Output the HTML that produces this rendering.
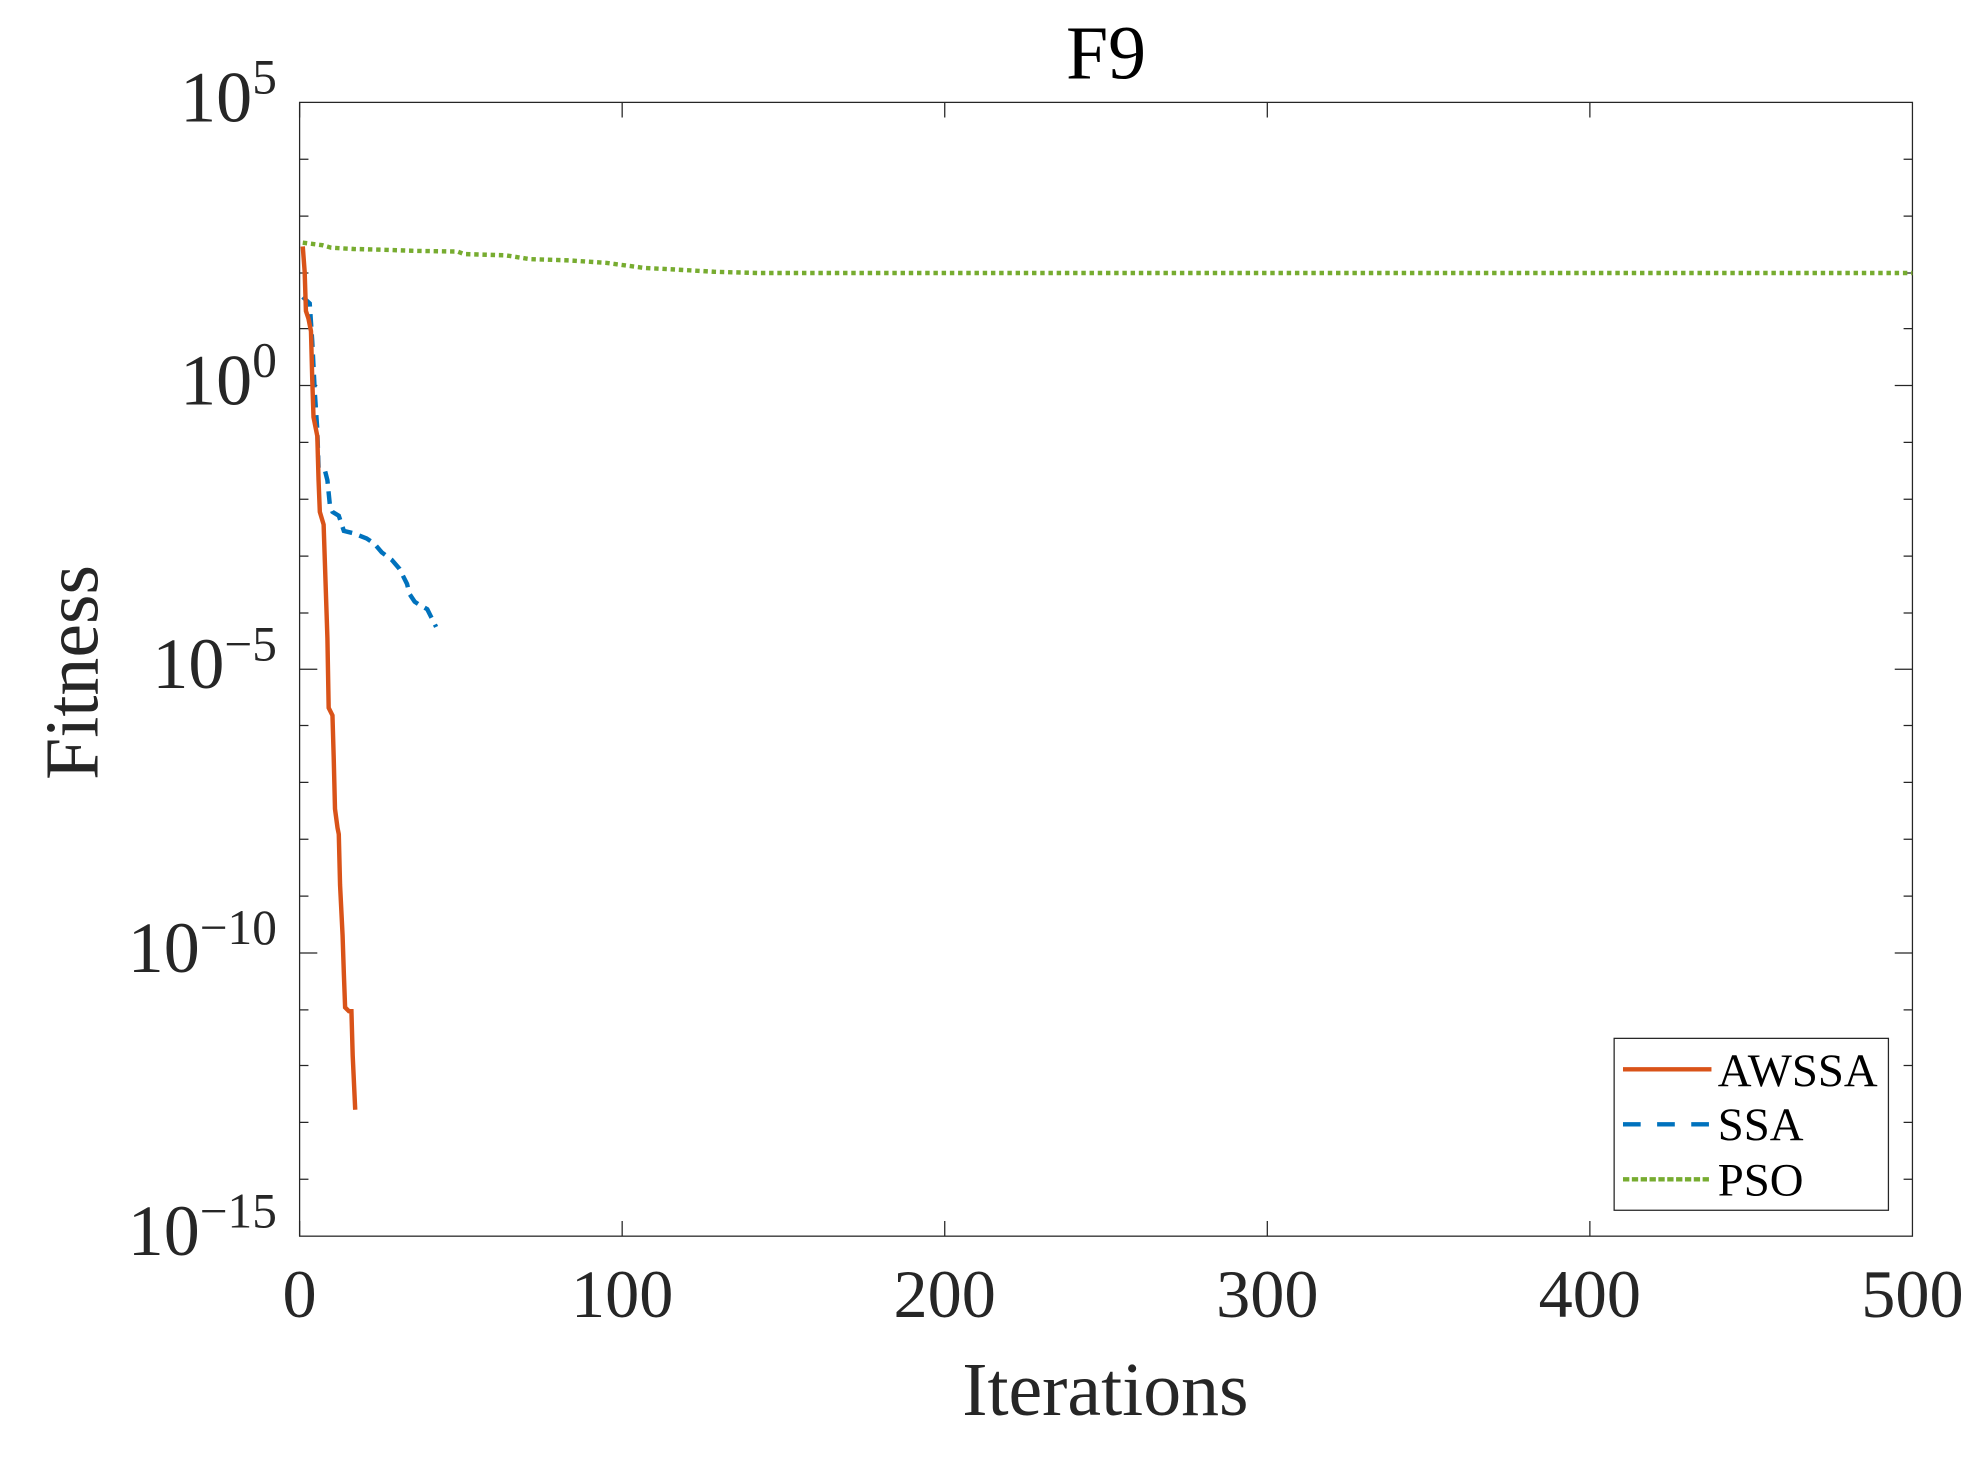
<!DOCTYPE html>
<html><head><meta charset="utf-8"><style>html,body{margin:0;padding:0;background:#fff}svg{display:block}</style></head>
<body>
<svg width="1982" height="1458" viewBox="0 0 1568 1153.5" xmlns="http://www.w3.org/2000/svg" font-family="Liberation Serif, serif" fill="#262626">
<rect x="0" y="0" width="1568" height="1153.5" fill="#fff"/>
<g stroke="#262626" stroke-width="1" fill="none">
<rect x="237" y="81" width="1276" height="897"/>
<path d="M237,81v12M492.2,81v12M747.4,81v12M1002.6,81v12M1257.8,81v12
M237,978v-12M492.2,978v-12M747.4,978v-12M1002.6,978v-12M1257.8,978v-12
M237,126h7M237,171h7M237,216h7M237,260h7M237,305h14M237,350h7M237,395h7M237,440h7M237,485h7M237,529.5h14M237,574h7M237,619h7M237,664h7M237,709h7M237,754h14M237,799h7M237,843h7M237,888h7M237,933h7
M1513,126h-7M1513,171h-7M1513,216h-7M1513,260h-7M1513,305h-14M1513,350h-7M1513,395h-7M1513,440h-7M1513,485h-7M1513,529.5h-14M1513,574h-7M1513,619h-7M1513,664h-7M1513,709h-7M1513,754h-14M1513,799h-7M1513,843h-7M1513,888h-7M1513,933h-7"/>
</g>
<polyline fill="none" stroke="#77AC30" stroke-width="3.5" stroke-dasharray="3.5,3" points="239.5,192 255,194 262,196 280,197 300,197.5 330,198.5 362,199 367,201 400,202 419,205 450,206 480,208 495,210 510,212 530,213 565,215 600,216 1513,216"/>
<polyline fill="none" stroke="#0072BD" stroke-width="3.5" stroke-dasharray="10,6" points="239.5,235 245,240 247,270 249,310 251,340 252,370 257,372 259,380 261,400 263,405 268,408 272,420 280,422 290,426 296,430 302,437 310,443 316,450 322,462 324,470 328,476 331,478 338,482 341,488 345,496"/>
<polyline fill="none" stroke="#D95319" stroke-width="3.5" points="239.5,195 241,215 242,246 244,252 246,262 247,300 248,330 251,345 252,380 253,405 256,415 257,445 259,505 260,560 263,566 264,600 265,640 267,655 268,660 269,700 271,740 272,770 273,797 276,800 278,800 279,835 281,878"/>
<rect x="1277" y="821.5" width="217" height="136" fill="#fff" stroke="#262626" stroke-width="1"/>
<line x1="1284" y1="846" x2="1354" y2="846" stroke="#D95319" stroke-width="3.5"/>
<line x1="1284" y1="889.5" x2="1354" y2="889.5" stroke="#0072BD" stroke-width="3.5" stroke-dasharray="14,13"/>
<line x1="1284" y1="933" x2="1354" y2="933" stroke="#77AC30" stroke-width="3.5" stroke-dasharray="5,2"/>
<g font-size="37" fill="#000">
<text x="1359" y="859">AWSSA</text>
<text x="1359" y="902">SSA</text>
<text x="1359" y="946">PSO</text>
</g>
<g font-size="54" text-anchor="middle">
<text x="237" y="1042">0</text>
<text x="492.2" y="1042">100</text>
<text x="747.4" y="1042">200</text>
<text x="1002.6" y="1042">300</text>
<text x="1257.8" y="1042">400</text>
<text x="1513" y="1042">500</text>
</g>
<g font-size="57" text-anchor="end">
<text x="219" y="96">10<tspan font-size="39" dy="-22">5</tspan></text>
<text x="219" y="320">10<tspan font-size="39" dy="-22">0</tspan></text>
<text x="219" y="544.5">10<tspan font-size="39" dy="-22">−5</tspan></text>
<text x="219" y="769">10<tspan font-size="39" dy="-22">−10</tspan></text>
<text x="219" y="993">10<tspan font-size="39" dy="-22">−15</tspan></text>
</g>
<text x="875" y="62" font-size="60" text-anchor="middle" fill="#000">F9</text>
<text x="874.5" y="1119.5" font-size="60" text-anchor="middle">Iterations</text>
<text transform="translate(77,532) rotate(-90)" font-size="60" text-anchor="middle">Fitness</text>
</svg>
</body></html>
